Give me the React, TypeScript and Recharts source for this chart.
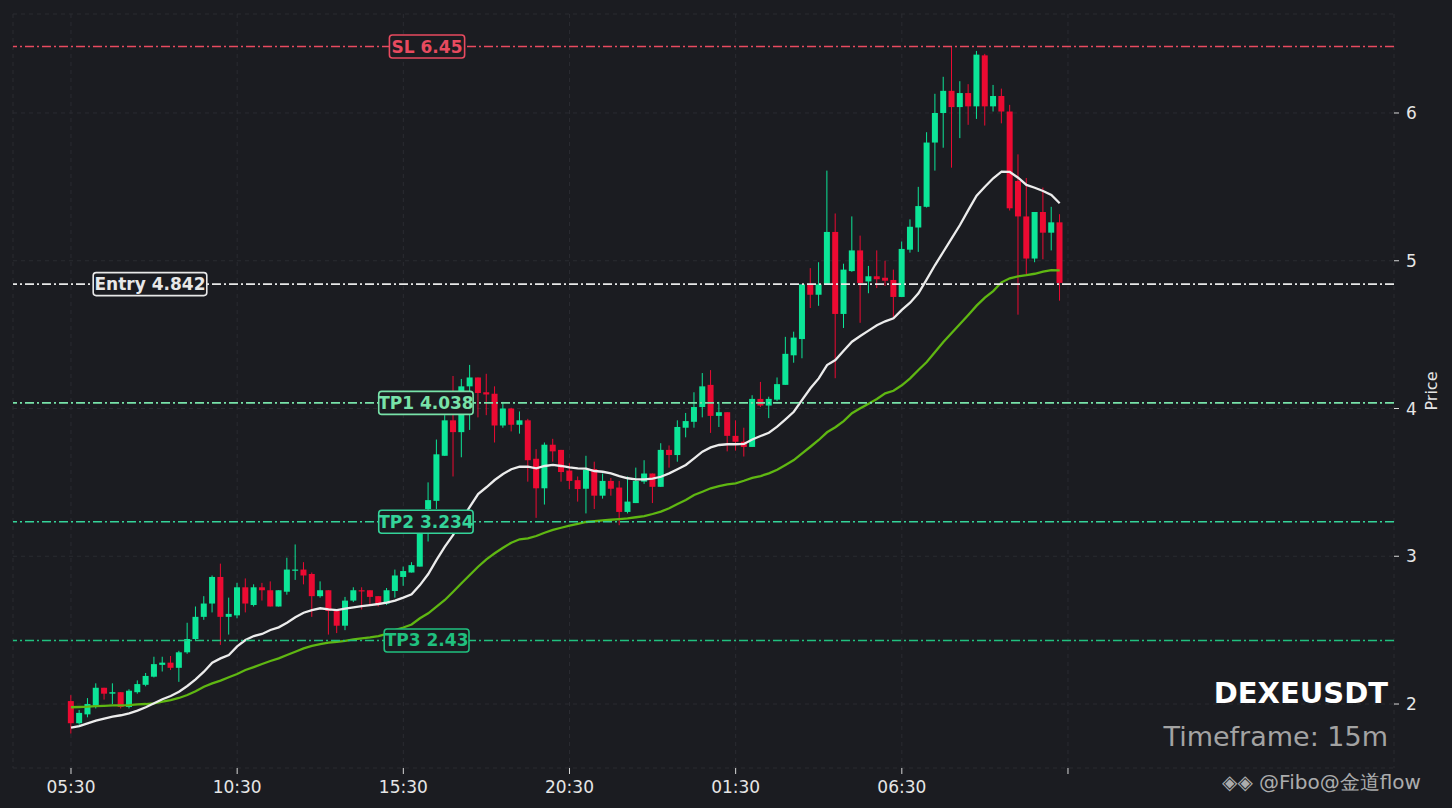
import {
  ComposedChart,
  Bar,
  Line,
  XAxis,
  YAxis,
  CartesianGrid,
  ReferenceLine,
} from 'recharts'

// 15m candles (index 0 = 05:30)
const opens = [
  2.02, 1.87, 1.93, 1.99, 2.11, 2.07, 2.08, 1.98, 2.08, 2.13,
  2.185, 2.265, 2.28, 2.245, 2.35, 2.44, 2.59, 2.68, 2.86, 2.59,
  2.6, 2.79, 2.67, 2.79, 2.77, 2.66, 2.76, 2.905, 2.91, 2.88,
  2.73, 2.77, 2.63, 2.53, 2.7, 2.77, 2.77, 2.73, 2.68, 2.765,
  2.86, 2.89, 2.93, 3.32, 3.375, 3.68, 3.92, 3.84, 4.15, 4.21,
  4.11, 4.1, 3.885, 4.0, 3.89, 3.92, 3.66, 3.46, 3.755, 3.72,
  3.58, 3.515, 3.457, 3.59, 3.41, 3.51, 3.465, 3.3, 3.36, 3.505,
  3.56, 3.47, 3.72, 3.685, 3.87, 3.91, 4.01, 4.16, 3.95, 3.975,
  3.815, 3.775, 3.74, 4.065, 4.02, 4.06, 4.16, 4.36, 4.47, 4.84,
  4.77, 4.84, 5.195, 4.64, 4.93, 5.07, 4.86, 4.895, 4.885, 4.87,
  4.755, 5.075, 5.225, 5.365, 5.8, 6.0, 6.15, 6.04, 6.135, 6.045,
  6.39, 6.045, 6.115, 6.01, 5.54, 5.3, 5.015, 5.33, 5.19, 5.26,
]
const highs = [
  2.06, 1.96, 2.04, 2.14, 2.11, 2.14, 2.08, 2.1, 2.16, 2.21,
  2.32, 2.32, 2.325, 2.36, 2.55, 2.66, 2.73, 2.87, 2.95, 2.72,
  2.82, 2.85, 2.81, 2.82, 2.83, 2.77, 2.99, 3.08, 2.96, 2.89,
  2.83, 2.77, 2.63, 2.725, 2.79, 2.79, 2.77, 2.73, 2.785, 2.91,
  2.93, 2.96, 3.155, 3.5, 3.79, 3.955, 4.22, 4.2, 4.295, 4.21,
  4.235, 4.15, 4.045, 4.005, 3.98, 3.93, 3.725, 3.77, 3.795, 3.72,
  3.63, 3.54, 3.68, 3.64, 3.56, 3.53, 3.51, 3.54, 3.6, 3.65,
  3.56, 3.765, 3.75, 3.92, 3.97, 4.11, 4.24, 4.26, 4.045, 3.975,
  3.92, 3.87, 4.09, 4.18, 4.08, 4.21, 4.485, 4.52, 4.84, 4.95,
  4.99, 5.61, 5.32, 4.98, 5.3, 5.17, 4.965, 5.07, 5.0, 4.94,
  5.13, 5.28, 5.5, 5.87, 6.13, 6.245, 6.45, 6.215, 6.195, 6.42,
  6.4, 6.19, 6.165, 6.055, 5.72, 5.56, 5.33, 5.495, 5.365, 5.315,
]
const lows = [
  1.8, 1.86, 1.91, 1.97, 2.03, 2.0, 1.97, 1.97, 2.07, 2.12,
  2.18, 2.22, 2.23, 2.15, 2.34, 2.43, 2.57, 2.62, 2.4, 2.47,
  2.58, 2.62, 2.66, 2.7, 2.66, 2.66, 2.74, 2.84, 2.81, 2.59,
  2.72, 2.47, 2.48, 2.5, 2.69, 2.64, 2.67, 2.66, 2.67, 2.72,
  2.8, 2.89, 2.93, 3.1, 3.32, 3.68, 3.54, 3.67, 3.855, 3.94,
  3.955, 3.77, 3.87, 3.845, 3.83, 3.505, 3.26, 3.35, 3.64, 3.505,
  3.455, 3.37, 3.29, 3.32, 3.39, 3.41, 3.21, 3.29, 3.36, 3.49,
  3.36, 3.47, 3.6, 3.64, 3.805, 3.87, 3.94, 3.835, 3.875, 3.71,
  3.715, 3.675, 3.74, 4.01, 3.935, 4.05, 4.16, 4.31, 4.34, 4.68,
  4.695, 4.84, 4.205, 4.545, 4.925, 4.58, 4.78, 4.815, 4.83, 4.62,
  4.755, 5.055, 5.06, 5.36, 5.61, 5.765, 5.63, 5.83, 5.92, 5.96,
  5.915, 6.01, 5.93, 5.34, 4.635, 4.9, 4.99, 5.01, 5.07, 4.73,
]
const closes = [
  1.87, 1.94, 2.0, 2.11, 2.07, 2.08, 1.98, 2.09, 2.135, 2.19,
  2.27, 2.28, 2.245, 2.35, 2.44, 2.59, 2.68, 2.86, 2.59, 2.61,
  2.79, 2.68, 2.79, 2.77, 2.66, 2.77, 2.91, 2.91, 2.87, 2.73,
  2.77, 2.63, 2.53, 2.7, 2.77, 2.765, 2.725, 2.675, 2.77, 2.87,
  2.9, 2.94, 3.155, 3.38, 3.69, 3.92, 3.84, 4.15, 4.21, 4.105,
  4.095, 3.885, 4.0, 3.89, 3.92, 3.65, 3.46, 3.755, 3.71, 3.57,
  3.51, 3.455, 3.585, 3.41, 3.51, 3.457, 3.3, 3.37, 3.51, 3.56,
  3.47, 3.72, 3.685, 3.875, 3.915, 4.01, 4.15, 3.95, 3.975, 3.815,
  3.775, 3.74, 4.065, 4.02, 4.065, 4.165, 4.37, 4.48, 4.84, 4.77,
  4.84, 5.195, 4.64, 4.94, 5.07, 4.85, 4.895, 4.875, 4.865, 4.755,
  5.08, 5.23, 5.37, 5.8, 6.0, 6.15, 6.04, 6.135, 6.045, 6.395,
  6.045, 6.115, 6.01, 5.355, 5.3, 5.015, 5.33, 5.19, 5.26, 4.85,
]
// moving averages as drawn (white = fast, green = slow)
const maFast = [
  1.84, 1.851, 1.869, 1.887, 1.901, 1.914, 1.924, 1.937, 1.955, 1.978,
  2.005, 2.032, 2.054, 2.083, 2.122, 2.167, 2.219, 2.28, 2.309, 2.332,
  2.39, 2.433, 2.46, 2.474, 2.501, 2.519, 2.55, 2.587, 2.618, 2.636,
  2.648, 2.641, 2.636, 2.645, 2.654, 2.663, 2.67, 2.677, 2.686, 2.7,
  2.72, 2.742, 2.805, 2.88, 2.975, 3.065, 3.144, 3.245, 3.335, 3.421,
  3.467, 3.516, 3.557, 3.589, 3.606, 3.606, 3.595, 3.611, 3.618, 3.611,
  3.602, 3.595, 3.593, 3.577, 3.572, 3.561, 3.543, 3.528, 3.521, 3.521,
  3.525, 3.538, 3.561, 3.589, 3.618, 3.663, 3.708, 3.737, 3.753, 3.758,
  3.758, 3.76, 3.79, 3.814, 3.836, 3.877, 3.927, 3.978, 4.058, 4.137,
  4.204, 4.294, 4.328, 4.391, 4.452, 4.491, 4.527, 4.563, 4.59, 4.61,
  4.667, 4.716, 4.78, 4.874, 4.971, 5.061, 5.152, 5.242, 5.343, 5.44,
  5.501, 5.558, 5.603, 5.601, 5.562, 5.513, 5.494, 5.472, 5.445, 5.389,
]
const maSlow = [
  1.978, 1.98, 1.982, 1.986, 1.988, 1.991, 1.991, 1.993, 1.998, 2.0,
  2.005, 2.016, 2.027, 2.041, 2.061, 2.086, 2.117, 2.14, 2.158, 2.181,
  2.203, 2.23, 2.25, 2.271, 2.291, 2.309, 2.332, 2.354, 2.377, 2.393,
  2.406, 2.415, 2.42, 2.428, 2.438, 2.445, 2.451, 2.46, 2.474, 2.501,
  2.518, 2.538, 2.58, 2.614, 2.659, 2.704, 2.76, 2.817, 2.873, 2.929,
  2.979, 3.02, 3.058, 3.092, 3.115, 3.121, 3.137, 3.159, 3.178, 3.193,
  3.208, 3.22, 3.232, 3.237, 3.243, 3.247, 3.252, 3.257, 3.264, 3.272,
  3.286, 3.302, 3.325, 3.354, 3.381, 3.415, 3.437, 3.46, 3.475, 3.487,
  3.494, 3.511, 3.53, 3.543, 3.561, 3.586, 3.618, 3.651, 3.697, 3.741,
  3.787, 3.839, 3.873, 3.915, 3.968, 4.001, 4.033, 4.064, 4.103, 4.12,
  4.157, 4.204, 4.261, 4.315, 4.382, 4.45, 4.511, 4.572, 4.633, 4.696,
  4.75, 4.795, 4.854, 4.881, 4.895, 4.902, 4.912, 4.926, 4.937, 4.935,
]

const timeTicks = [0, 20, 40, 60, 80, 100, 120]
const timeLabels = ['05:30', '10:30', '15:30', '20:30', '01:30', '06:30', '']
const priceTicks = [2, 3, 4, 5, 6]

const levelNames = ['SL 6.45', 'Entry 4.842', 'TP1 4.038', 'TP2 3.234', 'TP3 2.43']
const levelValues = [6.45, 4.842, 4.038, 3.234, 2.43]

// look
const BG = '#1b1c21'
const UP = '#0ce597'
const DOWN = '#ec0a32'
const FONT = '"DejaVu Sans", sans-serif'
const levelColors = ['#e84a5f', '#e8e8e8', '#78e2a9', '#34d399', '#20c07f']
const levelPos = [0.2998, 0.0992, 0.299, 0.299, 0.2995]

const rows = opens.map((o, i) => ({
  i,
  open: o,
  high: highs[i],
  low: lows[i],
  close: closes[i],
  range: [lows[i], highs[i]],
  fast: maFast[i],
  slow: maSlow[i],
}))

function Candle(props: any) {
  const { x, y, width, height, payload } = props
  if (!payload || x == null) return null
  const { open, close, high, low } = payload
  const top = Math.min(y, y + height)
  const h = Math.abs(height)
  const k = high > low ? h / (high - low) : 0
  const py = (v: number) => top + (high - v) * k
  const color = close >= open ? UP : DOWN
  const cx = x + width / 2
  const bTop = py(Math.max(open, close))
  const bH = Math.max(1.2, py(Math.min(open, close)) - bTop)
  return (
    <g>
      <line x1={cx} x2={cx} y1={top} y2={top + h} stroke={color} strokeWidth={1} />
      <rect x={x} y={bTop} width={width} height={bH} fill={color} />
    </g>
  )
}

function LevelTag(props: any) {
  const { viewBox, text, color, pos } = props
  if (!viewBox) return null
  const cx = viewBox.x + viewBox.width * pos
  const cy = viewBox.y
  const w = text.length * 9.6 + 8
  return (
    <g>
      <rect
        x={cx - w / 2}
        y={cy - 11.5}
        width={w}
        height={23}
        rx={3}
        fill={BG}
        stroke={color}
        strokeWidth={1.6}
      />
      <text
        x={cx}
        y={cy + 6}
        textAnchor="middle"
        fill={color}
        fontSize={17}
        fontWeight="bold"
        fontFamily={FONT}
      >
        {text}
      </text>
    </g>
  )
}

function PriceLabel(props: any) {
  const { viewBox } = props
  if (!viewBox) return null
  const x = viewBox.x + viewBox.width - 15
  const y = viewBox.y + viewBox.height / 2
  return (
    <text
      x={x}
      y={y}
      transform={`rotate(-90, ${x}, ${y})`}
      textAnchor="middle"
      fill="#e6e6e6"
      fontSize={16}
      fontFamily={FONT}
    >
      Price
    </text>
  )
}

export default function App() {
  return (
    <div
      style={{
        position: 'absolute',
        left: 0,
        top: 0,
        width: 1452,
        height: 808,
        background: BG,
        fontFamily: FONT,
        overflow: 'hidden',
      }}
    >
      <ComposedChart
        width={1452}
        height={808}
        data={rows}
        margin={{ top: 14, left: 13, right: 0, bottom: 10 }}
      >
        <CartesianGrid stroke="#2a2b31" strokeDasharray="4 4" />
        <XAxis
          dataKey="i"
          type="number"
          domain={[-6.98, 159.24]}
          allowDataOverflow
          ticks={timeTicks}
          tickFormatter={(v: number) => timeLabels[timeTicks.indexOf(v)] ?? ''}
          axisLine={false}
          tickLine={{ stroke: '#d8d8d8' }}
          tickSize={6}
          tickMargin={7}
          height={30}
          tick={{ fill: '#e6e6e6', fontSize: 17, fontFamily: FONT }}
        />
        <YAxis
          orientation="right"
          type="number"
          domain={[1.567, 6.67]}
          allowDataOverflow
          ticks={priceTicks}
          axisLine={false}
          tickLine={{ stroke: '#d8d8d8' }}
          tickSize={5}
          tickMargin={7}
          width={58}
          tick={{ fill: '#e6e6e6', fontSize: 17, fontFamily: FONT }}
          label={<PriceLabel />}
        />
        <Bar
          dataKey="range"
          barSize={6}
          shape={(p: any) => <Candle {...p} />}
          isAnimationActive={false}
        />
        <Line
          dataKey="slow"
          stroke="#5fb712"
          strokeWidth={2.3}
          dot={false}
          isAnimationActive={false}
        />
        <Line
          dataKey="fast"
          stroke="#ececec"
          strokeWidth={2.3}
          dot={false}
          isAnimationActive={false}
        />
        {levelValues.map((v, k) => (
          <ReferenceLine
            key={levelNames[k]}
            y={v}
            stroke={levelColors[k]}
            strokeWidth={1.6}
            strokeDasharray="9 3 2 3"
            label={<LevelTag text={levelNames[k]} color={levelColors[k]} pos={levelPos[k]} />}
          />
        ))}
      </ComposedChart>

      <svg
        width={1452}
        height={808}
        style={{ position: 'absolute', left: 0, top: 0, pointerEvents: 'none' }}
      >
        <text x={1388} y={703} textAnchor="end" fill="#ffffff" fontSize={29} fontWeight="bold" fontFamily={FONT}>
          DEXEUSDT
        </text>
        <text x={1388} y={746} textAnchor="end" fill="#a3a3a3" fontSize={27} fontFamily={FONT}>
          Timeframe: 15m
        </text>
        <text x={1222} y={789} opacity={0.75} fill="#dcdcdc" fontFamily={FONT} fontSize={20}>
          ◈◈ @Fibo@金道flow
        </text>
      </svg>
    </div>
  )
}
